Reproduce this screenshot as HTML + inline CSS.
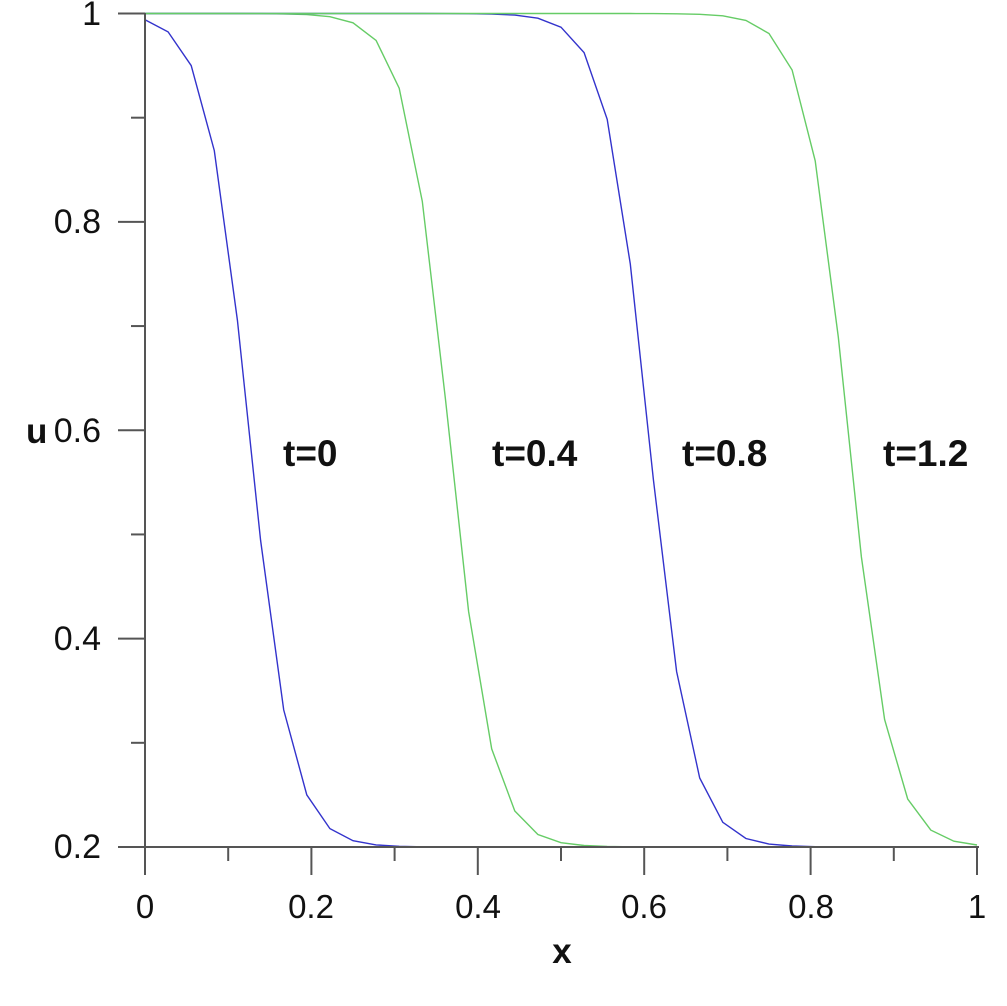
<!DOCTYPE html>
<html><head><meta charset="utf-8"><style>
html,body{margin:0;padding:0;background:#fff;}
svg{display:block;}
text{font-family:"Liberation Sans",Arial,sans-serif;fill:#111;}
</style></head><body>
<svg id="s" width="1007" height="1006" viewBox="0 0 1007 1006" xmlns="http://www.w3.org/2000/svg">
<g id="curves" fill="none" stroke-width="1.4"></g>
<g stroke="#555" stroke-width="2" fill="none">
<line x1="118" y1="847" x2="979" y2="847"/>
<line x1="145" y1="13" x2="145" y2="848"/>
</g>
<g id="ticks" stroke="#555" stroke-width="2"></g>
<g font-size="34" text-anchor="end">
<text x="101" y="25">1</text>
<text x="101" y="233">0.8</text>
<text x="101" y="442">0.6</text>
<text x="101" y="650">0.4</text>
<text x="101" y="858">0.2</text>
</g>
<g font-size="33" text-anchor="middle">
<text x="145" y="918">0</text>
<text x="311" y="918">0.2</text>
<text x="478" y="918">0.4</text>
<text x="644" y="918">0.6</text>
<text x="811" y="918">0.8</text>
<text x="977" y="918">1</text>
</g>
<text x="562" y="963" font-size="35" font-weight="bold" text-anchor="middle">x</text>
<text x="26" y="443" font-size="35" font-weight="bold">u</text>
<g font-size="37" font-weight="bold">
<text x="283" y="466">t=0</text>
<text x="492" y="466">t=0.4</text>
<text x="682" y="466">t=0.8</text>
<text x="883" y="466">t=1.2</text>
</g>
</svg>
<script>
(function(){
var X0=145,XS=832,Y1=13.5,YS=(847-13.5)/0.8;
function px(x){return X0+x*XS;} function py(u){return Y1+(1-u)*YS;}
var g=document.getElementById('curves'),ns='http://www.w3.org/2000/svg';
var cols=['#3333cc','#66cc66','#3333cc','#66cc66'];
for(var k=0;k<4;k++){
 var c=0.125+0.24*k,pts=[],N=36;
 for(var i=0;i<=N;i++){var x=i/N;var u=0.6-0.4*Math.tanh(19.5*(x-c));pts.push(px(x).toFixed(1)+','+py(u).toFixed(1));}
 var p=document.createElementNS(ns,'polyline');p.setAttribute('points',pts.join(' '));p.setAttribute('stroke',cols[k]);g.appendChild(p);
}
var t=document.getElementById('ticks');
for(var i=0;i<=10;i++){
 var x=px(i/10),l=document.createElementNS(ns,'line');
 l.setAttribute('x1',x);l.setAttribute('x2',x);l.setAttribute('y1',847);l.setAttribute('y2',i%2?861:875);t.appendChild(l);
}
for(var i=0;i<=8;i++){
 var y=py(1-i*0.1),l=document.createElementNS(ns,'line');
 l.setAttribute('y1',y);l.setAttribute('y2',y);l.setAttribute('x1',145);l.setAttribute('x2',i%2?131:118);t.appendChild(l);
}
})();
</script>
</body></html>
